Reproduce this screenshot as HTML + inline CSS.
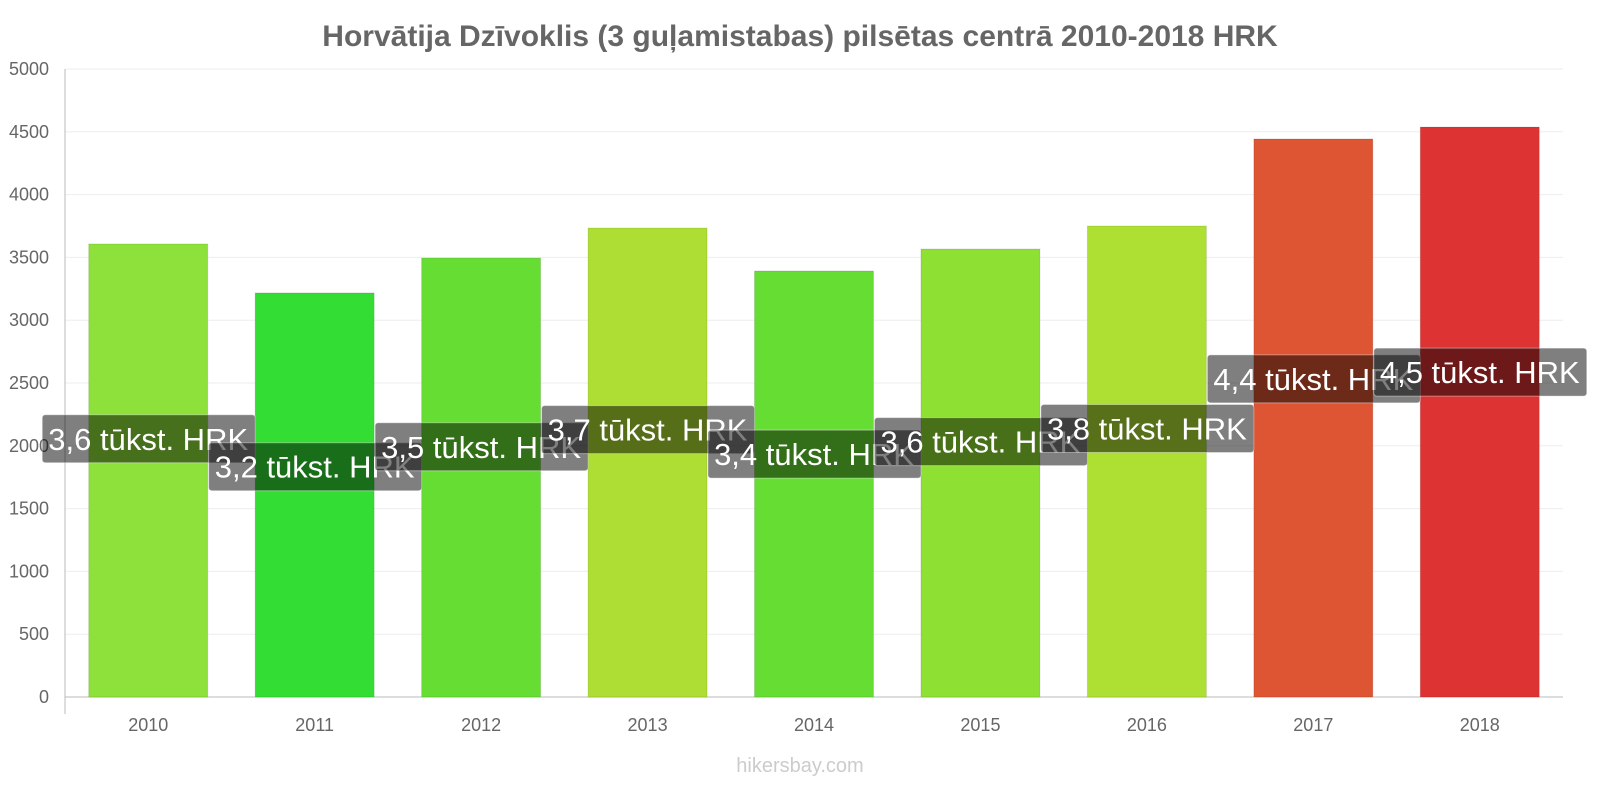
<!DOCTYPE html>
<html><head><meta charset="utf-8">
<style>
body{margin:0;background:#fff;width:1600px;height:800px;overflow:hidden;font-family:"Liberation Sans",sans-serif}
</style></head>
<body>
<svg id="c" width="1600" height="800" xmlns="http://www.w3.org/2000/svg">
<text x="800" y="46" text-anchor="middle" font-size="30" font-weight="bold" fill="#666">Horvātija Dzīvoklis (3 guļamistabas) pilsētas centrā 2010-2018 HRK</text>
<text x="800" y="772" text-anchor="middle" font-size="20" fill="#ccc">hikersbay.com</text>
<g id="grid"></g><g id="bars"></g><g id="labels"></g>
</svg>
<script>
const categories=["2010","2011","2012","2013","2014","2015","2016","2017","2018"];
const values=[3607,3217,3495,3734,3392,3567,3750,4443,4538];
const valueLabels=["3,6 tūkst. HRK","3,2 tūkst. HRK","3,5 tūkst. HRK","3,7 tūkst. HRK","3,4 tūkst. HRK","3,6 tūkst. HRK","3,8 tūkst. HRK","4,4 tūkst. HRK","4,5 tūkst. HRK"];
const barColors=["#8ee03a","#33dd33","#66dd33","#aedd33","#66dd33","#8ee033","#aee033","#dd5533","#dd3333"];
const yTicks=[0,500,1000,1500,2000,2500,3000,3500,4000,4500,5000];
const NS="http://www.w3.org/2000/svg";
const x0=65,x1=1563,y0=697,y1=69,maxV=5000;
const band=(x1-x0)/categories.length;
const y=v=>y0-(v/maxV)*(y0-y1);
const xc=i=>x0+band*(i+0.5);
function mk(t,a,p){const e=document.createElementNS(NS,t);for(const k in a)e.setAttribute(k,a[k]);p.appendChild(e);return e;}
const g=document.getElementById('grid'),b=document.getElementById('bars'),l=document.getElementById('labels');
yTicks.forEach(t=>{
 const ln=mk('line',{x1:x0,x2:x1,y1:y(t),y2:y(t),stroke:t===0?'#bbb':'#eee','stroke-width':1},g);
 
 
 const tx=mk('text',{x:49,y:y(t)+6,'text-anchor':'end','font-size':18,fill:'#666'},g);
 tx.textContent=t;
 
 
});
const ax=mk('line',{x1:x0,x2:x0,y1:y1,y2:714,stroke:'#bbb'},g);


categories.forEach((c,i)=>{
 const w=119;
 const r=mk('rect',{x:xc(i)-w/2,y:y(values[i]),width:w,height:y0-y(values[i]),fill:barColors[i],stroke:'rgba(0,0,0,0.1)'},b);
 
 
 const tx=mk('text',{x:xc(i),y:731,'text-anchor':'middle','font-size':18,fill:'#666'},g);
 tx.textContent=c;
 
 
 const ly=y(values[i]*0.57);
 const bx=mk('rect',{x:xc(i)-106,y:ly-24,width:213,height:48,rx:3,fill:'rgba(0,0,0,0.5)',stroke:'rgba(255,255,255,0.4)'},l);
 
 
 const lt=mk('text',{x:xc(i),y:ly+11,'text-anchor':'middle','font-size':31,fill:'#fff'},l);
 lt.textContent=valueLabels[i];
 
 
});
</script>
</body></html>
